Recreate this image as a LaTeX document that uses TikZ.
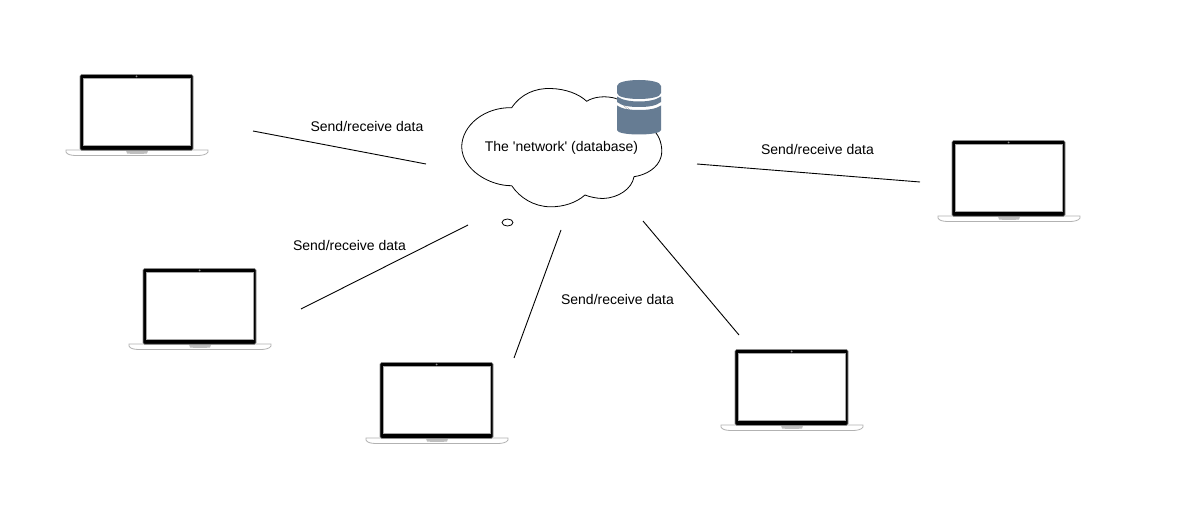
\documentclass[tikz,border=0pt]{standalone}
\usepackage{fontspec}
\usetikzlibrary{shapes.geometric}
\setmainfont{Liberation Sans}
\definecolor{dbblue}{HTML}{667C93}
\tikzset{x=1bp,y=-1bp,
  wire/.style={line width=0.9bp,black},
  lbl/.style={font=\fontsize{14bp}{16bp}\selectfont,inner sep=0pt,text=black},
  pics/laptop/.style={code={
    % base
    \path[draw=black!30,fill=white,line width=0.8bp] (-14,75.5) -- (128,75.5) -- (128,77.5) .. controls (127,80) and (122,81) .. (118,81) -- (-4,81) .. controls (-9,81) and (-13,80) .. (-14,77.5) -- cycle;
    \path[fill=black!25] (46,76) -- (68,76) -- (67,79) .. controls (62,79.6) and (52,79.6) .. (47,79) -- cycle;
    % lid
    \path[fill=black,draw=black!45,line width=0.6bp,rounded corners=1.5bp] (0,75.8) -- (0,0) -- (113,0) -- (113,75.8) -- cycle;
    \path[fill=white,draw=black!35,line width=0.3bp] (3.3,4) rectangle (110.4,71);
    \path[fill=black!45] (56.5,2) circle (1bp);
  }}}
\begin{document}
\begin{tikzpicture}
\useasboundingbox[fill=white] (0,0) rectangle (1198,514);
% laptops
\pic (lapA) at (80,74.5) {laptop};
\pic (lapB) at (952,140.5) {laptop};
\pic (lapC) at (143,268.5) {laptop};
\pic (lapD) at (380,362.5) {laptop};
\pic (lapE) at (735,349.5) {laptop};
% cloud
\draw[line width=0.8bp,black,fill=white]
  (511.7,107.7) .. controls (521,94) and (535,88) .. (551,88.5)
  .. controls (566,89) and (579,94) .. (586.7,101.3)
  .. controls (594,96.5) and (606,95.5) .. (616,98.5)
  -- (656,133)
  .. controls (661,139) and (663,150) .. (661,157)
  .. controls (658,168) and (646,175) .. (634,176.7)
  .. controls (632,189) and (618,198) .. (603,198.5)
  .. controls (597,198.5) and (590,197) .. (585,195)
  .. controls (576,203) and (563,207) .. (550,206.8)
  .. controls (534,206.5) and (520,198) .. (511.7,185.7)
  .. controls (490,186) and (462,170) .. (461.7,146.7)
  .. controls (462,125) and (485,107) .. (511.7,107.7) -- cycle;
\draw[line width=0.8bp,white] (616.5,99) -- (655.5,132.5);
% thought bubble
\node[draw=black,line width=0.8bp,ellipse,minimum width=11bp,minimum height=7bp,inner sep=0pt] (bubble) at (507.5,222.5) {};
% database
\path[fill=dbblue] (617,86) .. controls (617,82) and (628,80) .. (639,80) .. controls (650,80) and (661,82) .. (661,86)
  -- (661,93) .. controls (661,97) and (650,99) .. (639,99) .. controls (628,99) and (617,97) .. (617,93) -- cycle;
\path[fill=dbblue] (617,96.5) .. controls (622,100) and (630,101.5) .. (639,101.5) .. controls (648,101.5) and (656,100) .. (661,96.5)
  -- (661,102) .. controls (656,106) and (648,107) .. (639,107) .. controls (630,107) and (622,106) .. (617,102) -- cycle;
\path[fill=dbblue] (617,105.5) .. controls (622,109) and (630,110) .. (639,110) .. controls (648,110) and (656,109) .. (661,105.5)
  -- (661,130) .. controls (661,133) and (650,134.5) .. (639,134.5) .. controls (628,134.5) and (617,133) .. (617,130) -- cycle;
% labels
\node[lbl] (cloudtext) at (561.5,148) {The \textquotesingle network\textquotesingle{} (database)};
\node[lbl] (s1) at (367,126) {Send/receive data};
\node[lbl] (s2) at (817.5,149) {Send/receive data};
\node[lbl] (s3) at (349.5,245) {Send/receive data};
\node[lbl] (s4) at (617.5,299) {Send/receive data};
% connector ends
\coordinate (a1) at (253,131); \coordinate (a2) at (426,164);
\coordinate (b1) at (697,164); \coordinate (b2) at (920,182);
\coordinate (c1) at (301,309); \coordinate (c2) at (468,225);
\coordinate (d1) at (514,358); \coordinate (d2) at (561,230);
\coordinate (e1) at (739,335); \coordinate (e2) at (643,221);
\draw[wire] (a1) -- (a2);
\draw[wire] (b1) -- (b2);
\draw[wire] (c1) -- (c2);
\draw[wire] (d1) -- (d2);
\draw[wire] (e1) -- (e2);
\end{tikzpicture}
\end{document}
